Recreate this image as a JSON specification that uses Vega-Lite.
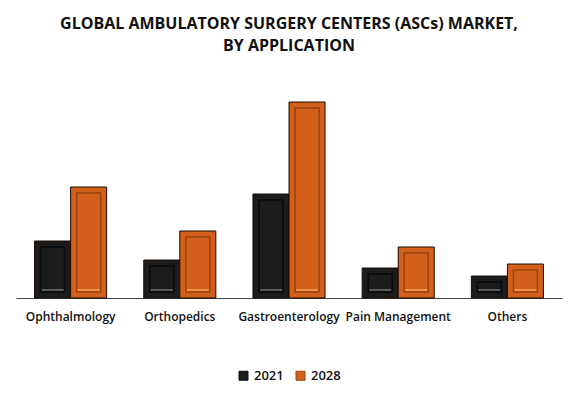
{
  "$schema": "https://vega.github.io/schema/vega-lite/v6.json",
  "autosize": "none",
  "width": 546,
  "height": 218,
  "padding": {"left": 16, "top": 80, "right": 15, "bottom": 98},
  "background": "white",
  "title": {
    "text": ["GLOBAL AMBULATORY SURGERY CENTERS (ASCs) MARKET,", "BY APPLICATION"],
    "font": "Open Sans",
    "fontSize": 16,
    "fontWeight": "bold",
    "color": "#111111",
    "lineHeight": 22,
    "offset": 26,
    "anchor": "middle"
  },
  "config": {
    "view": {"stroke": null},
    "font": "Open Sans",
    "legend": {"layout": {"bottom": {"anchor": "middle"}}}
  },
  "data": {
    "values": [
      {"application": "Ophthalmology", "year": "2021", "value": 57},
      {"application": "Ophthalmology", "year": "2028", "value": 111},
      {"application": "Orthopedics", "year": "2021", "value": 38},
      {"application": "Orthopedics", "year": "2028", "value": 67},
      {"application": "Gastroenterology", "year": "2021", "value": 104},
      {"application": "Gastroenterology", "year": "2028", "value": 196},
      {"application": "Pain Management", "year": "2021", "value": 30},
      {"application": "Pain Management", "year": "2028", "value": 51},
      {"application": "Others", "year": "2021", "value": 22},
      {"application": "Others", "year": "2028", "value": 34}
    ]
  },
  "encoding": {
    "x": {
      "field": "application",
      "type": "nominal",
      "sort": null,
      "scale": {"paddingInner": 0.34, "paddingOuter": 0.17},
      "axis": {
        "title": null,
        "labelAngle": 0,
        "ticks": false,
        "labelFont": "Open Sans",
        "labelFontSize": 12,
        "labelFontWeight": 600,
        "labelColor": "#111111",
        "labelPadding": 13,
        "domainColor": "#444444",
        "domainWidth": 1
      }
    },
    "xOffset": {"field": "year", "type": "nominal", "scale": {"paddingInner": 0, "paddingOuter": 0}},
    "y": {
      "field": "value",
      "type": "quantitative",
      "scale": {"domain": [0, 218]},
      "axis": null
    },
    "y2": {"datum": 0}
  },
  "layer": [
    {
      "mark": {"type": "bar", "stroke": "#1a0a00", "strokeWidth": 1},
      "encoding": {
        "color": {
          "field": "year",
          "type": "nominal",
          "scale": {"domain": ["2021", "2028"], "range": ["#1c1c1c", "#d2601a"]},
          "legend": {
            "title": null,
            "orient": "bottom",
            "direction": "horizontal",
            "symbolType": "square",
            "symbolSize": 81,
            "symbolStrokeColor": "#222222",
            "symbolStrokeWidth": 1,
            "labelFont": "Open Sans",
            "labelFontSize": 13,
            "labelFontWeight": 600,
            "labelColor": "#111111",
            "labelOffset": 4,
            "columnPadding": 10,
            "offset": 47
          }
        }
      }
    },
    {
      "mark": {"type": "bar", "fillOpacity": 0, "strokeWidth": 1.5, "size": 24, "yOffset": 6, "y2Offset": -6},
      "encoding": {
        "stroke": {
          "field": "year",
          "type": "nominal",
          "scale": {"domain": ["2021", "2028"], "range": ["#0a0a0a", "#9a4210"]},
          "legend": null
        }
      }
    },
    {
      "mark": {"type": "bar", "size": 22, "yOffset": -9, "y2Offset": -7},
      "encoding": {
        "y": {"datum": 0},
        "y2": {"datum": 0},
        "fill": {
          "field": "year",
          "type": "nominal",
          "scale": {"domain": ["2021", "2028"], "range": ["#5a5a5a", "#f39048"]},
          "legend": null
        }
      }
    }
  ]
}
